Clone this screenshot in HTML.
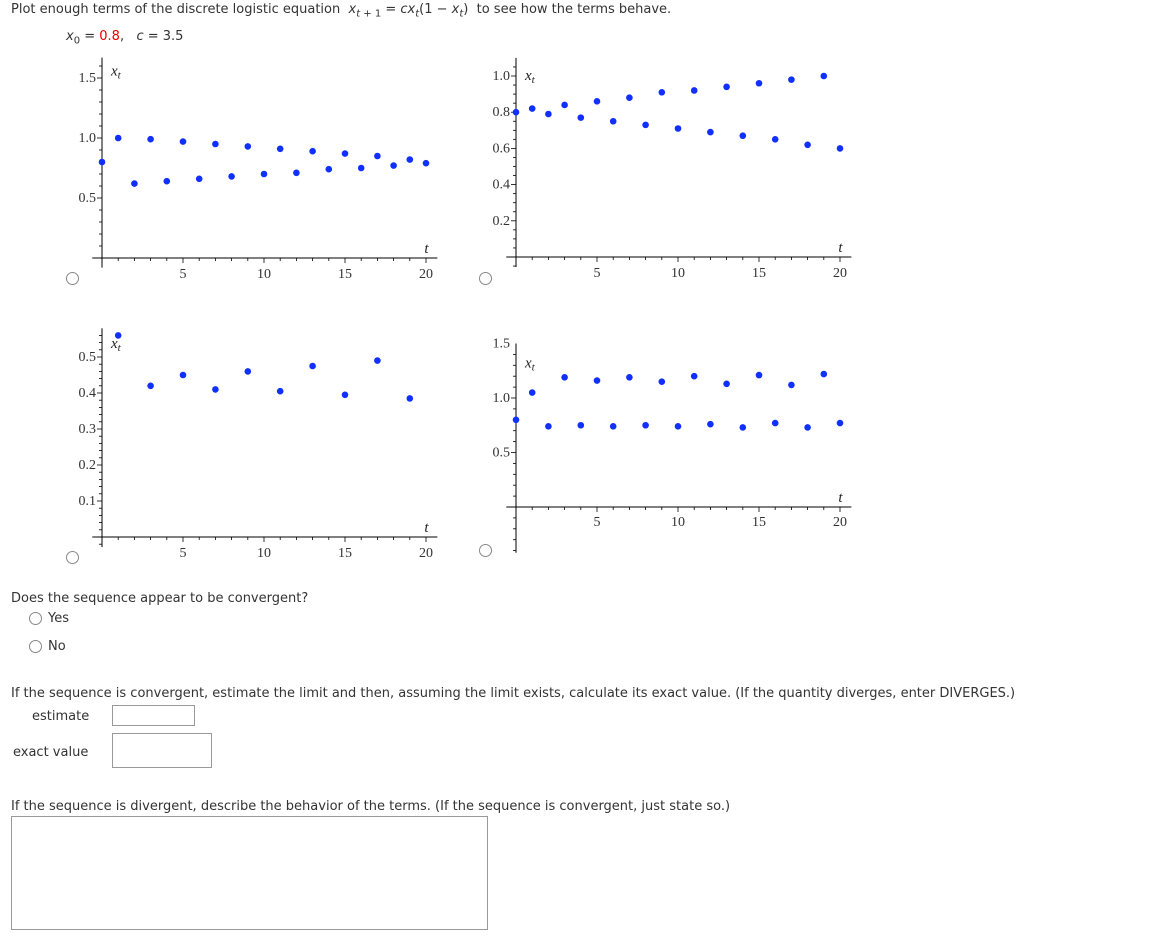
<!DOCTYPE html>
<html><head><meta charset="utf-8"><style>
body{margin:0;width:1170px;height:943px;position:relative;background:#fff;font-family:"DejaVu Sans","Liberation Sans",sans-serif;font-size:13px;color:#333;overflow:hidden}
.t{position:absolute;white-space:nowrap}
.radio{position:absolute;width:11px;height:11px;border:1px solid #888;border-radius:50%;background:#fff}
.box{position:absolute;border:1px solid #999;background:#fff}
i{font-style:italic}
</style></head><body>
<div class="t" style="left:11px;top:2px">Plot enough terms of the discrete logistic equation &nbsp;<i>x</i><sub style="font-size:10px"><i>t</i> + 1</sub> = <i>cx</i><sub style="font-size:10px"><i>t</i></sub>(1 − <i>x</i><sub style="font-size:10px"><i>t</i></sub>) &nbsp;to see how the terms behave.</div>
<div class="t" style="left:66px;top:29px"><i>x</i><sub style="font-size:10px">0</sub> = <span style="color:#e00">0.8</span>, &nbsp;&nbsp;<i>c</i> = 3.5</div>
<svg id="charts" width="1170" height="943" style="position:absolute;left:0;top:0"></svg>
<div class="radio" style="left:66px;top:272px"></div>
<div class="radio" style="left:479px;top:272px"></div>
<div class="radio" style="left:66px;top:551px"></div>
<div class="radio" style="left:479px;top:544px"></div>
<div class="t" style="left:11px;top:591px">Does the sequence appear to be convergent?</div>
<div class="radio" style="left:29px;top:612px"></div>
<div class="t" style="left:48px;top:611px">Yes</div>
<div class="radio" style="left:29px;top:640px"></div>
<div class="t" style="left:48px;top:639px">No</div>
<div class="t" style="left:11px;top:686px">If the sequence is convergent, estimate the limit and then, assuming the limit exists, calculate its exact value. (If the quantity diverges, enter DIVERGES.)</div>
<div class="t" style="left:32px;top:709px">estimate</div>
<div class="box" style="left:112px;top:705px;width:81px;height:19px"></div>
<div class="t" style="left:13px;top:745px">exact value</div>
<div class="box" style="left:112px;top:733px;width:98px;height:33px"></div>
<div class="t" style="left:11px;top:799px">If the sequence is divergent, describe the behavior of the terms. (If the sequence is convergent, just state so.)</div>
<div class="box" style="left:11px;top:816px;width:475px;height:112px"></div>
<script>
const t1 = [0,1,2,3,4,5,6,7,8,9,10,11,12,13,14,15,16,17,18,19,20];
const x1 = [0.8,1.0,0.62,0.99,0.64,0.97,0.66,0.95,0.68,0.93,0.70,0.91,0.71,0.89,0.74,0.87,0.75,0.85,0.77,0.82,0.79];
const t2 = [0,1,2,3,4,5,6,7,8,9,10,11,12,13,14,15,16,17,18,19,20];
const x2 = [0.8,0.82,0.79,0.84,0.77,0.86,0.75,0.88,0.73,0.91,0.71,0.92,0.69,0.94,0.67,0.96,0.65,0.98,0.62,1.0,0.60];
const t3 = [1,3,5,7,9,11,13,15,17,19];
const x3 = [0.56,0.42,0.45,0.41,0.46,0.405,0.475,0.395,0.49,0.385];
const t4 = [0,1,2,3,4,5,6,7,8,9,10,11,12,13,14,15,16,17,18,19,20];
const x4 = [0.8,1.05,0.74,1.19,0.75,1.16,0.74,1.19,0.75,1.15,0.74,1.20,0.76,1.13,0.73,1.21,0.77,1.12,0.73,1.22,0.77];
const xTickLabels = [5,10,15,20];
const yTicks1 = [0.5,1.0,1.5];
const yTicks2 = [0.2,0.4,0.6,0.8,1.0];
const yTicks3 = [0.1,0.2,0.3,0.4,0.5];
const yTicks4 = [0.5,1.0,1.5];
const svg = document.getElementById('charts');
const NS = 'http://www.w3.org/2000/svg';
function mk(tag, attrs, parent){const e=document.createElementNS(NS,tag);for(const k in attrs)e.setAttribute(k,attrs[k]);parent.appendChild(e);return e;}
function chart(name, c, ts, xs, yTicks){
  const g = mk('g',{},svg);
  
  
  const X = t => c.ox + t*c.sx;
  const Y = v => c.oy - v*c.sy;
  const xa = mk('line',{x1:X(-0.6),x2:X(20.7),y1:c.oy,y2:c.oy,stroke:'#000','stroke-width':1},g);
  
  
  const ya = mk('line',{x1:c.ox,x2:c.ox,y1:Y(c.yTop),y2:Y(c.yBot),stroke:'#000','stroke-width':1},g);
  
  
  for(let t=1;t<=20;t++){
    const major = t%5===0;
    mk('line',{x1:X(t),x2:X(t),y1:c.oy,y2:c.oy+(major?5:3),stroke:'#000','stroke-width':0.8},g);
  }
  for(let v=c.minor; v<c.yTop; v+=c.minor){
    if(Y(v) > c.oy-1) continue;
    const major = yTicks.some(k=>Math.abs(k-v)<1e-6);
    mk('line',{x1:c.ox,x2:c.ox-(major?5:3),y1:Y(v),y2:Y(v),stroke:'#000','stroke-width':0.8},g);
  }
  for(let v=-c.minor; v>c.yBot; v-=c.minor){
    mk('line',{x1:c.ox,x2:c.ox-3,y1:Y(v),y2:Y(v),stroke:'#000','stroke-width':0.8},g);
  }
  xTickLabels.forEach(t=>{
    const e = mk('text',{x:X(t),y:c.oy+c.xlab,'text-anchor':'middle','font-family':'Liberation Serif,serif','font-size':14,fill:'#333'},g);
    e.textContent = t;
    
    
  });
  yTicks.forEach(v=>{
    const e = mk('text',{x:c.ox-6,y:Y(v)+4,'text-anchor':'end','font-family':'Liberation Serif,serif','font-size':14,fill:'#333'},g);
    e.textContent = v.toFixed(1);
    
    
  });
  const yl = mk('text',{x:c.ox+9,y:Y(c.yTop)+c.ylabDy,'font-family':'Liberation Serif,serif','font-size':15,'font-style':'italic',fill:'#222'},g);
  yl.innerHTML = 'x<tspan font-size="11" dy="3">t</tspan>';
  
  
  const xl = mk('text',{x:X(19.9),y:c.oy-5,'font-family':'Liberation Serif,serif','font-size':15,'font-style':'italic',fill:'#222'},g);
  xl.textContent = 't';
  
  
  ts.forEach((t,i)=>{
    const p = mk('circle',{cx:X(t),cy:Y(xs[i]),r:3.3,fill:'#1030ff'},g);
    
    
  });
}
chart('plot-top-left',{ox:102,oy:258,sx:16.2,sy:120,yTop:1.67,yBot:-0.08,minor:0.1,xlab:20,ylabDy:18},t1,x1,yTicks1);
chart('plot-top-right',{ox:516,oy:257,sx:16.2,sy:181,yTop:1.1,yBot:-0.055,minor:0.05,xlab:20,ylabDy:22},t2,x2,yTicks2);
chart('plot-bottom-left',{ox:102,oy:537,sx:16.2,sy:360,yTop:0.58,yBot:-0.028,minor:0.02,xlab:20,ylabDy:20},t3,x3,yTicks3);
chart('plot-bottom-right',{ox:516,oy:507,sx:16.2,sy:109,yTop:1.5,yBot:-0.42,minor:0.1,xlab:19,ylabDy:24},t4,x4,yTicks4);
</script>
</body></html>
